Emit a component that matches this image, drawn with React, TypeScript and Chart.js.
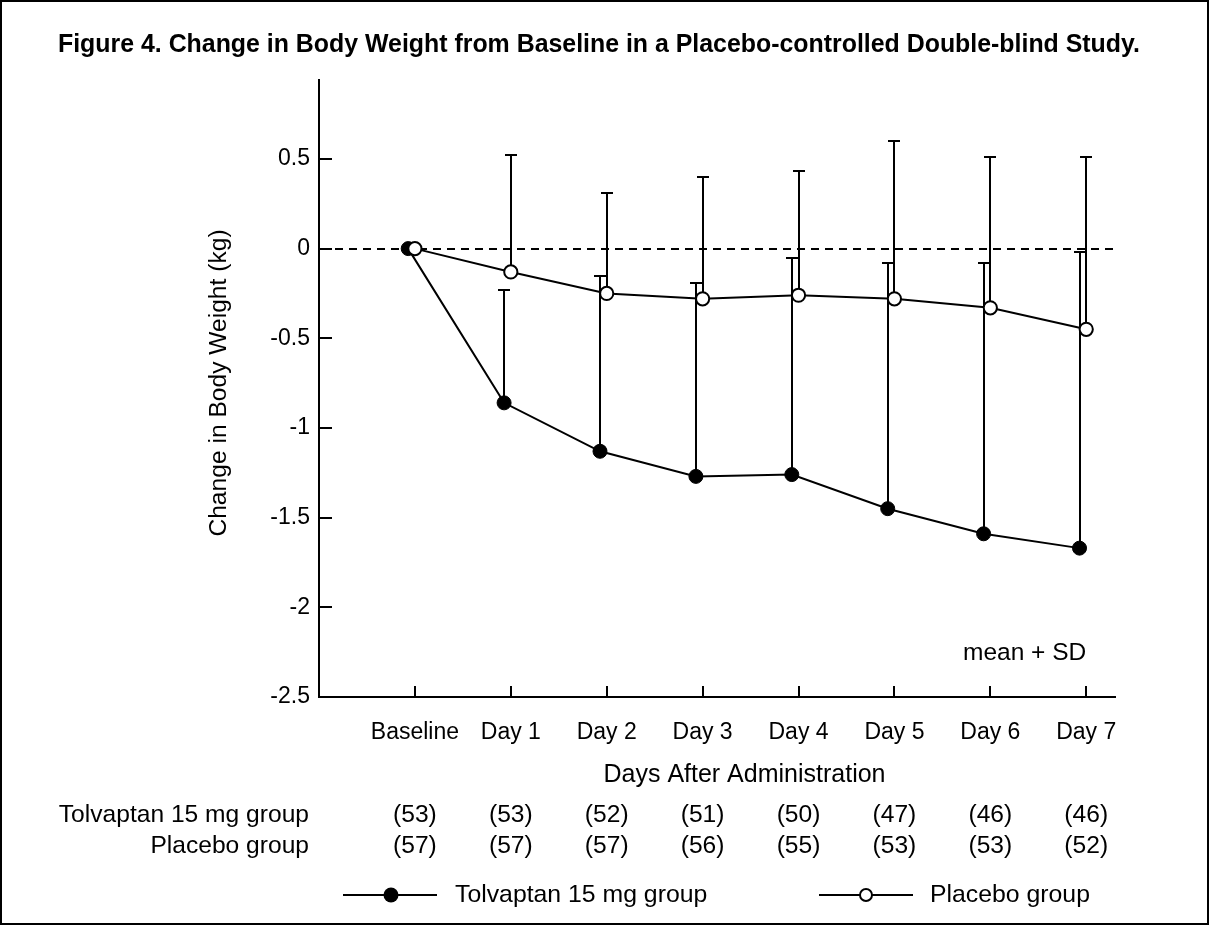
import React, { useEffect, useRef } from "react";
import { Chart, registerables } from "chart.js";

Chart.register(...registerables);

// ---- data -----------------------------------------------------------------
const CATEGORIES = ["Baseline", "Day 1", "Day 2", "Day 3", "Day 4", "Day 5", "Day 6", "Day 7"];
const TOLVAPTAN_MEAN = [0, -0.86, -1.13, -1.27, -1.26, -1.45, -1.59, -1.67];
const TOLVAPTAN_SD = [0, 0.63, 0.98, 1.08, 1.21, 1.37, 1.51, 1.65];
const PLACEBO_MEAN = [0, -0.13, -0.25, -0.28, -0.26, -0.28, -0.33, -0.45];
const PLACEBO_SD = [0, 0.65, 0.56, 0.68, 0.69, 0.88, 0.84, 0.96];
const TOLVAPTAN_N = [53, 53, 52, 51, 50, 47, 46, 46];
const PLACEBO_N = [57, 57, 57, 56, 55, 53, 53, 52];
const Y_TICKS = [0.5, 0, -0.5, -1, -1.5, -2, -2.5];

const TITLE = "Figure 4. Change in Body Weight from Baseline in a Placebo-controlled Double-blind Study.";
const Y_TITLE = "Change in Body Weight (kg)";
const X_TITLE = "Days After Administration";
const TOLVAPTAN_LABEL = "Tolvaptan 15 mg group";
const PLACEBO_LABEL = "Placebo group";
const NOTE = "mean + SD";

// small horizontal shift so the two series don't sit on top of each other
const TOLVAPTAN_SHIFT = -0.07;
const PLACEBO_SHIFT = 0;

// ---- layout ---------------------------------------------------------------
const W = 1209;
const H = 925;
const FONT = '"Liberation Sans", Arial, Helvetica, sans-serif';

Chart.defaults.font.family = FONT;
Chart.defaults.color = "#000";

const font = (size: number, weight = "normal") => `${weight} ${size}px ${FONT}`;

const series = [
  { mean: TOLVAPTAN_MEAN, sd: TOLVAPTAN_SD, shift: TOLVAPTAN_SHIFT },
  { mean: PLACEBO_MEAN, sd: PLACEBO_SD, shift: PLACEBO_SHIFT },
];

const decorations = {
  id: "decorations",
  beforeDatasetsDraw(chart: any) {
    const { ctx, chartArea: a } = chart;
    const xs = chart.scales.x;
    const ys = chart.scales.y;
    ctx.save();
    ctx.strokeStyle = "#000";
    ctx.lineWidth = 2;

    // dashed zero reference line
    const y0 = Math.round(ys.getPixelForValue(0));
    ctx.setLineDash([8, 6]);
    ctx.beginPath();
    ctx.moveTo(a.left + 2, y0);
    ctx.lineTo(a.right, y0);
    ctx.stroke();
    ctx.setLineDash([]);

    // upper SD whiskers with caps
    series.forEach((s) => {
      s.mean.forEach((m, i) => {
        const sd = s.sd[i];
        if (!sd) return;
        const px = Math.round(xs.getPixelForValue(i + s.shift));
        const py = ys.getPixelForValue(m);
        const top = Math.round(ys.getPixelForValue(m + sd));
        ctx.beginPath();
        ctx.moveTo(px, py);
        ctx.lineTo(px, top - 1);
        ctx.moveTo(px - 6, top);
        ctx.lineTo(px + 6, top);
        ctx.stroke();
      });
    });
    ctx.restore();
  },
  afterDraw(chart: any) {
    const { ctx, chartArea: a } = chart;
    const xs = chart.scales.x;
    const ys = chart.scales.y;
    ctx.save();
    ctx.fillStyle = "#000";
    ctx.strokeStyle = "#000";

    // inward tick marks
    ctx.lineWidth = 2;
    Y_TICKS.forEach((v) => {
      const py = Math.round(ys.getPixelForValue(v));
      ctx.beginPath();
      ctx.moveTo(a.left, py);
      ctx.lineTo(a.left + 13, py);
      ctx.stroke();
    });
    CATEGORIES.forEach((_, i) => {
      const px = Math.round(xs.getPixelForValue(i));
      ctx.beginPath();
      ctx.moveTo(px, a.bottom);
      ctx.lineTo(px, a.bottom - 11);
      ctx.stroke();
    });

    // figure title
    ctx.font = font(24.9, "bold");
    ctx.textAlign = "left";
    ctx.textBaseline = "alphabetic";
    ctx.fillText(TITLE, 58, 52);

    // y-axis title
    ctx.save();
    ctx.translate(226, 383);
    ctx.rotate(-Math.PI / 2);
    ctx.font = font(24.6);
    ctx.textAlign = "center";
    ctx.fillText(Y_TITLE, 0, 0);
    ctx.restore();

    // x-axis title
    ctx.font = font(25);
    ctx.textAlign = "center";
    ctx.fillText(X_TITLE, 744.5, 782);

    // annotation
    ctx.font = font(24.5);
    ctx.textAlign = "left";
    ctx.fillText(NOTE, 963, 660);

    // number of subjects under each day
    ctx.font = font(24.6);
    ctx.textAlign = "right";
    ctx.fillText(TOLVAPTAN_LABEL, 309, 821.5);
    ctx.fillText(PLACEBO_LABEL, 309, 852.5);
    ctx.textAlign = "center";
    CATEGORIES.forEach((_, i) => {
      const px = xs.getPixelForValue(i);
      ctx.fillText(`(${TOLVAPTAN_N[i]})`, px, 821.5);
      ctx.fillText(`(${PLACEBO_N[i]})`, px, 852.5);
    });

    // legend
    const ly = 895;
    ctx.lineWidth = 2;
    ctx.beginPath();
    ctx.moveTo(343, ly);
    ctx.lineTo(437, ly);
    ctx.moveTo(819, ly);
    ctx.lineTo(913, ly);
    ctx.stroke();
    ctx.beginPath();
    ctx.arc(391, ly, 7.5, 0, Math.PI * 2);
    ctx.fill();
    ctx.beginPath();
    ctx.arc(866, ly, 6, 0, Math.PI * 2);
    ctx.fillStyle = "#fff";
    ctx.fill();
    ctx.stroke();
    ctx.fillStyle = "#000";
    ctx.font = font(24.8);
    ctx.textAlign = "left";
    ctx.textBaseline = "middle";
    ctx.fillText(TOLVAPTAN_LABEL, 455, ly);
    ctx.fillText(PLACEBO_LABEL, 930, ly);

    // frame
    ctx.lineWidth = 2;
    ctx.strokeRect(1, 1, W - 2, H - 2);
    ctx.restore();
  },
};

export default function App() {
  const canvasRef = useRef<HTMLCanvasElement>(null);

  useEffect(() => {
    const canvas = canvasRef.current;
    if (!canvas) return;
    const chart = new Chart(canvas, {
      type: "line",
      data: {
        datasets: [
          {
            label: PLACEBO_LABEL,
            data: PLACEBO_MEAN.map((v, i) => ({ x: i + PLACEBO_SHIFT, y: v })),
            borderColor: "#000",
            borderWidth: 2,
            pointRadius: 6.6,
            pointBorderWidth: 2,
            pointBackgroundColor: "#fff",
            pointBorderColor: "#000",
            tension: 0,
            order: 0,
          },
          {
            label: TOLVAPTAN_LABEL,
            data: TOLVAPTAN_MEAN.map((v, i) => ({ x: i + TOLVAPTAN_SHIFT, y: v })),
            borderColor: "#000",
            borderWidth: 2,
            pointRadius: 7,
            pointBorderWidth: 1,
            pointBackgroundColor: "#000",
            pointBorderColor: "#000",
            tension: 0,
            order: 1,
          },
        ],
      },
      options: {
        animation: false,
        responsive: false,
        devicePixelRatio: 1,
        events: [],
        layout: { padding: { top: 80, right: 94, bottom: 0, left: 0 } },
        plugins: {
          legend: { display: false },
          tooltip: { enabled: false },
          title: { display: false },
        },
        scales: {
          x: {
            type: "linear",
            min: -1,
            max: 7.3,
            afterFit: (s: any) => {
              s.height = H - 697;
            },
            afterBuildTicks: (s: any) => {
              s.ticks = CATEGORIES.map((_, i) => ({ value: i }));
            },
            grid: { display: false, drawTicks: false },
            border: { display: true, color: "#000", width: 2 },
            ticks: {
              color: "#000",
              font: { size: 23, family: FONT },
              padding: 22,
              maxRotation: 0,
              autoSkip: false,
              callback: (v: any) => CATEGORIES[v] ?? "",
            },
          },
          y: {
            type: "linear",
            min: -2.5,
            max: 0.94,
            afterFit: (s: any) => {
              s.width = 319;
            },
            afterBuildTicks: (s: any) => {
              s.ticks = Y_TICKS.map((v) => ({ value: v }));
            },
            grid: { display: false, drawTicks: false },
            border: { display: true, color: "#000", width: 2 },
            ticks: {
              color: "#000",
              font: { size: 23, family: FONT },
              padding: 9,
              autoSkip: false,
              callback: (v: any) => String(v),
            },
          },
        },
      },
      plugins: [decorations],
    });
    return () => chart.destroy();
  }, []);

  return (
    <canvas
      ref={canvasRef}
      width={W}
      height={H}
      style={{ position: "absolute", left: 0, top: 0, width: W, height: H, display: "block", background: "#fff" }}
    />
  );
}
